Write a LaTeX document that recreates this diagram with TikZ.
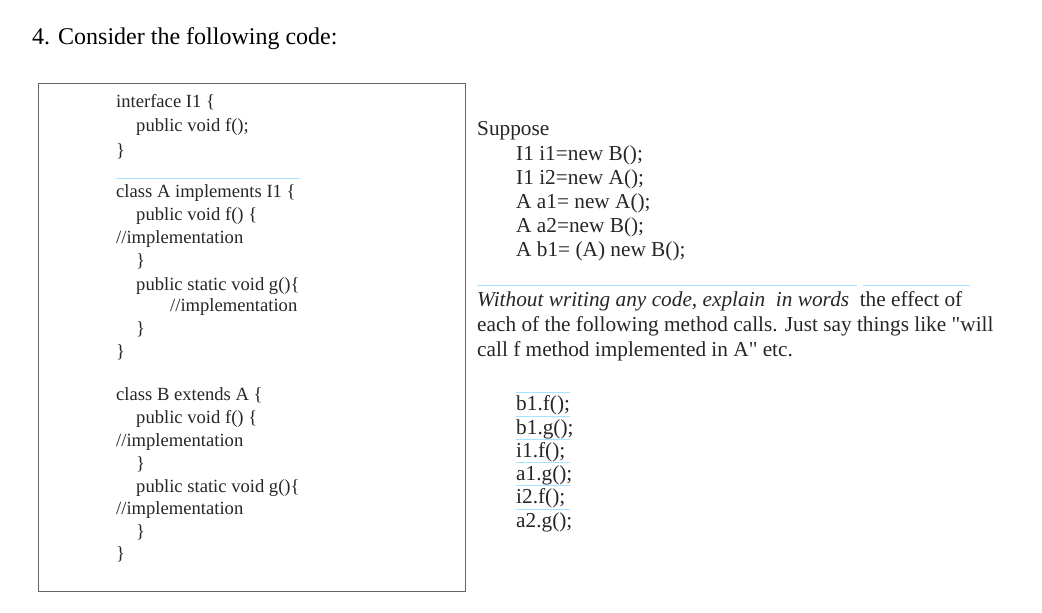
\documentclass[tikz,border=0pt]{standalone}
\usepackage{fontspec}
\setmainfont{Liberation Serif}
\begin{document}
\begin{tikzpicture}[x=1pt,y=-1pt,
  L/.style={anchor=base west,inner sep=0pt,font=\fontsize{18.6}{20}\selectfont,text=black!85},
  R/.style={anchor=base west,inner sep=0pt,font=\fontsize{21.3}{23}\selectfont,text=black!85},
  rule/.style={draw=blue!30!cyan!35!white,line width=0.8pt}]
\useasboundingbox (0,0) rectangle (1042,613);
\node[anchor=base west,inner sep=0pt,font=\fontsize{24}{26}\selectfont] (h) at (32,45) {4. Consider the following code:};
\draw[black!60,line width=1pt] (38,83) rectangle (465,591);
\node[L] (l1) at (116,107) {interface I1 \{};
\node[L] (l2) at (136,131) {public void f();};
\node[L] (l3) at (116,156) {\}};
\draw[rule] (116,178) -- (300,178);
\node[L] (l4) at (116,197) {class A implements I1 \{};
\node[L] (l5) at (136,220) {public void f() \{};
\node[L] (l6) at (116,243) {//implementation};
\node[L] (l7) at (136,266) {\}};
\node[L] (l8) at (136,290) {public static void g()\{};
\node[L] (l9) at (170,311) {//implementation};
\node[L] (l10) at (136,334) {\}};
\node[L] (l11) at (116,357) {\}};
\node[L] (l12) at (116,400) {class B extends A \{};
\node[L] (l13) at (136,423) {public void f() \{};
\node[L] (l14) at (116,446) {//implementation};
\node[L] (l15) at (136,469) {\}};
\node[L] (l16) at (136,492) {public static void g()\{};
\node[L] (l17) at (116,514) {//implementation};
\node[L] (l18) at (136,537) {\}};
\node[L] (l19) at (116,559) {\}};
\node[R] (s) at (477,135) {Suppose};
\node[R] (s1) at (516,160) {I1 i1=new B();};
\node[R] (s2) at (516,184) {I1 i2=new A();};
\node[R] (s3) at (516,208) {A a1= new A();};
\node[R] (s4) at (516,232) {A a2=new B();};
\node[R] (s5) at (516,256) {A b1= (A) new B();};
\draw[rule] (477,285) -- (857,285);
\draw[rule] (863,285) -- (970,285);
\node[R] (w1) at (477,306) {\textit{Without writing any code, explain\ \ in words}\ \ the effect of};
\node[R] (w2) at (477,331) {each of the following method calls. Just say things like \textquotedbl will};
\node[R] (w3) at (477,356) {call f method implemented in A\textquotedbl{} etc.};
\foreach \t/\y in {b1.f();/410,b1.g();/434,i1.f();/457,a1.g();/480,i2.f();/503,a2.g();/527}{
  \draw[rule] (516,\y-18) -- (570,\y-18);
  \node[R] at (516,\y) {\t};
}
\end{tikzpicture}
\end{document}
